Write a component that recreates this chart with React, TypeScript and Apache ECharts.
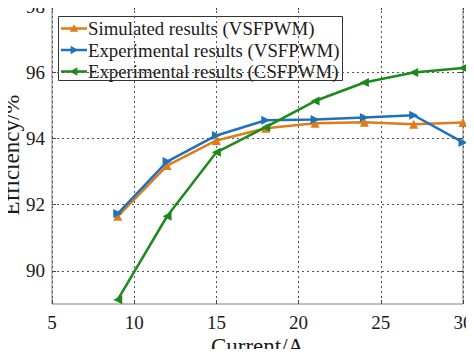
import React, { useEffect, useRef } from "react";
import * as echarts from "echarts";

const currents = [9, 12, 15, 18, 21, 24, 27, 30];
const simulatedVS = [91.65, 93.18, 93.94, 94.31, 94.46, 94.49, 94.43, 94.48];
const experimentalVS = [91.73, 93.3, 94.09, 94.55, 94.57, 94.63, 94.7, 93.88];
const experimentalCS = [89.13, 91.65, 93.58, 94.34, 95.13, 95.69, 95.99, 96.13];
const seriesNames = [
  "Simulated results (VSFPWM)",
  "Experimental results (VSFPWM)",
  "Experimental results (CSFPWM)",
];
const seriesColors = ["#e07b1a", "#1f72b8", "#1b8a1b"];
const seriesRotate = [0, -90, 90];
const yTicks = [90, 92, 94, 96, 98];
const xTitle = "Current/A";
const yTitle = "Efficiency/%";

const FONT = "'Liberation Serif', 'Times New Roman', serif";
const TXT = "#1a1a1a";
const GRID_LINE = { show: true, lineStyle: { color: "#555555", type: [2, 3] as number[], width: 1 } };
const TICK_IN = { show: true, inside: true, length: 4, lineStyle: { color: "#444444", width: 1 } };

function trianglePoints(cx: number, cy: number, r: number, rotDeg: number) {
  const base = [
    [0, -r],
    [-r, r * 0.8],
    [r, r * 0.8],
  ];
  const a = (-rotDeg * Math.PI) / 180;
  return base.map(([x, y]) => [cx + x * Math.cos(a) - y * Math.sin(a), cy + x * Math.sin(a) + y * Math.cos(a)]);
}

export default function App() {
  const ref = useRef<HTMLDivElement>(null);
  useEffect(() => {
    if (!ref.current) return;
    const chart = echarts.init(ref.current, null, { renderer: "svg" });
    const mk = (xs: number[], ys: number[]) => xs.map((x, i) => [x, ys[i]]);
    const values = [simulatedVS, experimentalVS, experimentalCS];

    const legendX = 58.5;
    const legendY = 16.5;
    const legendW = 284;
    const legendH = 64;
    const rowY = [28.5, 50, 71.5];
    const legendChildren: any[] = [
      {
        type: "rect",
        shape: { x: legendX, y: legendY, width: legendW, height: legendH },
        style: { fill: "#ffffff", stroke: "#333333", lineWidth: 1 },
      },
    ];
    seriesNames.forEach((name, i) => {
      const cy = rowY[i];
      legendChildren.push(
        {
          type: "line",
          shape: { x1: 61, y1: cy, x2: 87, y2: cy },
          style: { stroke: seriesColors[i], lineWidth: 2.5 },
        },
        {
          type: "polygon",
          shape: { points: trianglePoints(74, cy, 4.2, seriesRotate[i]) },
          style: { fill: seriesColors[i] },
        },
        {
          type: "text",
          x: 88,
          y: cy,
          style: {
            text: name,
            font: `18.8px ${FONT}`,
            fill: TXT,
            align: "left",
            verticalAlign: "middle",
          },
        }
      );
    });

    chart.setOption({
      animation: false,
      grid: {
        left: 52,
        top: 6,
        right: 11,
        bottom: 53,
        containLabel: false,
        outerBoundsMode: "none",
        show: true,
        borderColor: "#7f7f7f",
        borderWidth: 1,
        backgroundColor: "#ffffff",
      },
      graphic: [
        { type: "group", z: 100, children: legendChildren },
        {
          type: "text",
          x: 257.5,
          y: 346,
          style: { text: xTitle, font: `23px ${FONT}`, fill: TXT, align: "center", verticalAlign: "middle" },
        },
        {
          type: "text",
          x: 11,
          y: 155,
          rotation: Math.PI / 2,
          style: { text: yTitle, font: `23px ${FONT}`, fill: TXT, align: "center", verticalAlign: "middle" },
        },
      ],
      xAxis: [
        {
          type: "value",
          min: 5,
          max: 30,
          interval: 5,
          axisLine: { show: false },
          axisTick: TICK_IN,
          axisLabel: { fontFamily: FONT, fontSize: 19, color: TXT, margin: 9 },
          splitLine: GRID_LINE,
        },
        {
          type: "value",
          position: "top",
          min: 5,
          max: 30,
          interval: 5,
          axisLine: { show: false },
          axisTick: TICK_IN,
          axisLabel: { show: false },
          splitLine: { show: false },
        },
      ],
      yAxis: [
        {
          type: "value",
          min: 89,
          max: 98,
          axisLine: { show: false },
          axisTick: { ...TICK_IN, customValues: yTicks },
          axisLabel: { fontFamily: FONT, fontSize: 19, color: TXT, margin: 7, customValues: yTicks },
          splitLine: GRID_LINE,
        },
        {
          type: "value",
          position: "right",
          min: 89,
          max: 98,
          axisLine: { show: false },
          axisTick: { ...TICK_IN, customValues: yTicks },
          axisLabel: { show: false, customValues: yTicks },
          splitLine: { show: false },
        },
      ],
      series: seriesNames.map((name, i) => ({
        name,
        type: "line",
        data: mk(currents, values[i]),
        symbol: "triangle",
        symbolRotate: seriesRotate[i],
        symbolSize: 9,
        color: seriesColors[i],
        lineStyle: { width: 2.5 },
        z: 3 + i,
      })),
    });
    return () => chart.dispose();
  }, []);
  return <div ref={ref} style={{ width: 474, height: 357, margin: -8 }} />;
}
